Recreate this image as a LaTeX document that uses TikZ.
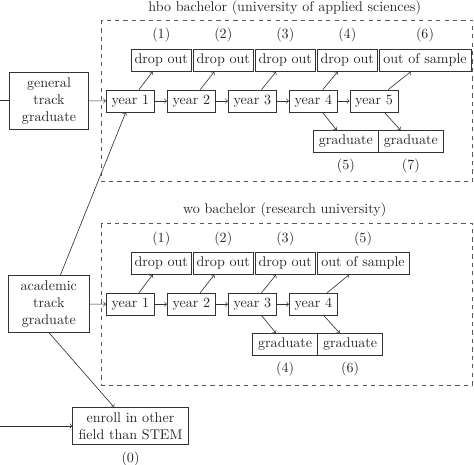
\documentclass[tikz,border=0pt]{standalone}
\begin{document}
\begin{tikzpicture}[x=0.71pt,y=-0.71pt,
  every node/.style={text=black!85},
  box/.style={draw=black!80, line width=0.5pt, inner sep=0pt, minimum height=22*0.71pt},
  dropbox/.style={box, minimum width=60.5*0.71pt},
  oosbox/.style={box, minimum width=92*0.71pt},
  yearbox/.style={box, minimum width=48*0.71pt},
  gradbox/.style={box, minimum width=65*0.71pt},
  bigbox/.style={draw=black!80, line width=0.5pt, inner sep=0pt, align=center},
  num/.style={inner sep=0pt},
  frame/.style={draw=black!65, line width=0.5pt, dashed},
  conn/.style={draw=black!80, line width=0.45pt, ->},
  plain/.style={draw=black!80, line width=0.45pt}]
\useasboundingbox (0,0) rectangle (474,465);

% ---------- hbo section ----------
\node (thbo) at (284.7,8) {hbo bachelor (university of applied sciences)};
\draw[frame] (101.7,20) rectangle (472.7,181.7);

\node[num] (hl1) at (161.25,35) {(1)};
\node[num] (hl2) at (223.25,35) {(2)};
\node[num] (hl3) at (285.25,35) {(3)};
\node[num] (hl4) at (347.25,35) {(4)};
\node[num] (hl6) at (425,35) {(6)};

\node[dropbox] (hd1) at (161.25,60.3) {drop out};
\node[dropbox] (hd2) at (223.25,60.3) {drop out};
\node[dropbox] (hd3) at (285.25,60.3) {drop out};
\node[dropbox] (hd4) at (347.25,60.3) {drop out};
\node[oosbox]  (ho)  at (425,60.3) {out of sample};

\node[yearbox] (hy1) at (130.3,101) {year 1};
\node[yearbox] (hy2) at (191.3,101) {year 2};
\node[yearbox] (hy3) at (252.3,101) {year 3};
\node[yearbox] (hy4) at (313.3,101) {year 4};
\node[yearbox] (hy5) at (374,101) {year 5};

\node[gradbox] (hg5) at (345.8,141.5) {graduate};
\node[gradbox] (hg7) at (410.8,141.5) {graduate};
\node[num] (hl5) at (345.8,165.7) {(5)};
\node[num] (hl7) at (410.8,165.7) {(7)};

% ---------- wo section ----------
\node (two) at (284.7,210) {wo bachelor (research university)};
\draw[frame] (101.7,223.3) rectangle (472.7,385);

\node[num] (wl1) at (161.25,239.3) {(1)};
\node[num] (wl2) at (223.25,239.3) {(2)};
\node[num] (wl3) at (285.25,239.3) {(3)};
\node[num] (wl5) at (363,239.3) {(5)};

\node[dropbox] (wd1) at (161.25,263.3) {drop out};
\node[dropbox] (wd2) at (223.25,263.3) {drop out};
\node[dropbox] (wd3) at (285.25,263.3) {drop out};
\node[oosbox]  (wo)  at (363,263.3) {out of sample};

\node[yearbox] (wy1) at (130.3,304.2) {year 1};
\node[yearbox] (wy2) at (191.3,304.2) {year 2};
\node[yearbox] (wy3) at (252.3,304.2) {year 3};
\node[yearbox] (wy4) at (313.3,304.2) {year 4};

\node[gradbox] (wg4) at (285.2,344.5) {graduate};
\node[gradbox] (wg6) at (350.2,344.5) {graduate};
\node[num] (wl4) at (285.2,369.3) {(4)};
\node[num] (wl6) at (350.2,369.3) {(6)};

% ---------- left side ----------
\node[bigbox, minimum width=79.4*0.71pt, minimum height=56.7*0.71pt] (gen) at (49,100.7) {general\\track\\graduate};
\node[bigbox, minimum width=81*0.71pt, minimum height=56.3*0.71pt] (acad) at (48.8,304) {academic\\track\\graduate};
\node[bigbox, minimum width=115.6*0.71pt, minimum height=36.6*0.71pt] (enr) at (130.5,426) {enroll in other\\field than STEM};
\node[num] (l0) at (130.5,459) {(0)};

\coordinate (ingen) at (0,100.7);
\coordinate (inenr) at (0,426);

% ---------- connectors ----------
\draw[plain] (ingen) -- (gen);
\draw[conn] (inenr) -- (enr);
\draw[conn] (gen) -- (hy1);
\draw[conn] (acad) -- (hy1);
\draw[conn] (acad) -- (wy1);
\draw[conn] (acad.south) -- (enr);

\draw[conn] (hy1) -- (hy2);
\draw[conn] (hy2) -- (hy3);
\draw[conn] (hy3) -- (hy4);
\draw[conn] (hy4) -- (hy5);
\draw[conn] (hy1) -- (hd1);
\draw[conn] (hy2) -- (hd2);
\draw[conn] (hy3) -- (hd3);
\draw[conn] (hy4) -- (hd4);
\draw[conn] (hy5) -- (ho);
\draw[conn] (hy4) -- (hg5);
\draw[conn] (hy5) -- (hg7);

\draw[conn] (wy1) -- (wy2);
\draw[conn] (wy2) -- (wy3);
\draw[conn] (wy3) -- (wy4);
\draw[conn] (wy1) -- (wd1);
\draw[conn] (wy2) -- (wd2);
\draw[conn] (wy3) -- (wd3);
\draw[conn] (wy4) -- (wo);
\draw[conn] (wy3) -- (wg4);
\draw[conn] (wy4) -- (wg6);
\end{tikzpicture}
\end{document}
